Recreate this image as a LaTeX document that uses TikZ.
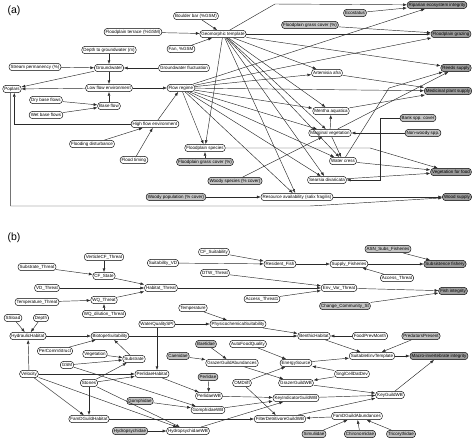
\documentclass[tikz,border=0pt]{standalone}
\usepackage{fontspec}
\setsansfont{Liberation Sans}
\usetikzlibrary{shapes}
\usetikzlibrary{positioning}
\usetikzlibrary{arrows.meta}
\definecolor{ingray}{HTML}{C4C4C4}
\definecolor{outgray}{HTML}{9C9C9C}
\definecolor{linegray}{HTML}{2A2A2A}
\tikzset{
    vnode/.style = {rectangle, rounded corners=3.4pt, draw=black, line width=0.45pt, fill=white, inner xsep=1.6pt, inner ysep=0pt, minimum height=7.4pt, font=\sffamily\fontsize{4.5}{5}\selectfont, text=black},
    vnodeg/.style = {vnode, fill=ingray},
    vnoded/.style = {vnode, fill=outgray},
    panel/.style = {font=\sffamily\fontsize{10.5}{12}\selectfont},
    edgea/.style = {-{Latex[length=3.8pt,width=3pt]}, line width=0.45pt, linegray},
}
\begin{document}
\begin{tikzpicture}[x=1pt,y=-1pt]
\useasboundingbox (0,0) rectangle (474,439);
% panel (a)
\node[panel] at (14,11) (pa) {(a)};
\node[vnode] at (133,32) (fpt) {Floodplain terrace (\%GSM)};
\node[vnode] at (109,50) (dgw) {Depth to groundwater (m)};
\node[vnode] at (35,67) (stp) {Stream permanency (\%)};
\node[vnode] at (109,68) (gw) {Groundwater};
\node[vnode] at (12,89) (pop) {Poplars};
\node[vnode] at (109,88) (lfe) {Low flow environment};
\node[vnode] at (46,100) (dbf) {Dry base flows};
\node[vnode] at (109,106) (bf) {Base flow};
\node[vnode] at (46,115) (wbf) {Wet base flows};
\node[vnode] at (155,124) (hfe) {High flow environment};
\node[vnode] at (92,144) (fld) {Flooding disturbance};
\node[vnode] at (134,160) (flt) {Flood timing};
\node[vnodeg] at (176,197) (wpo) {Woody population (\% cover)};
\node[vnode] at (196,16) (bb) {Boulder bar (\%GSM)};
\node[vnode] at (223,34) (geo) {Geomorphic template};
\node[vnode] at (181,49) (fan) {Fan, \%GSM};
\node[vnode] at (184,68) (gwf) {Groundwater fluctuation};
\node[vnode] at (181,88) (flr) {Flow regime};
\node[vnodeg] at (310,25) (fgc) {Floodplain grass cover (\%)};
\node[vnode] at (327,73) (art) {Artemisia afra};
\node[vnoded] at (437,5) (rip) {Riparian ecosystem integrity};
\node[vnodeg] at (355,13) (eco) {Ecostatus};
\node[vnoded] at (451,34) (fgr) {Floodplain grazing};
\node[vnoded] at (456,68) (ree) {Reeds supply};
\node[vnoded] at (448,91) (med) {Medicinal plant supply};
\node[vnode] at (331,111) (men) {Mentha aquatica};
\node[vnodeg] at (418,118) (bsc) {Bank spp. cover};
\node[vnode] at (330,133) (mar) {Marginal vegetation};
\node[vnodeg] at (423,133) (nws) {Non-woody spp.};
\node[vnode] at (343,161) (wcr) {Water cress};
\node[vnoded] at (451,172) (vff) {Vegetation for food};
\node[vnode] at (327,180) (sea) {Searsia divaricata};
\node[vnode] at (297,197) (res) {Resource availability (salix fragilis)};
\node[vnoded] at (457,197) (wsu) {Wood supply};
\node[vnode] at (205,148) (fsp) {Floodplain species};
\node[vnodeg] at (205,162) (fgc2) {Floodplain grass cover (\%)};
\node[vnodeg] at (235,181) (wsp) {Woody species (\% cover)};
%
\draw[edgea] (dgw) -- (gw);
\draw[edgea] (stp) -- (gw);
\draw[edgea] (gwf) -- (gw);
\draw[edgea] (gw) -- (lfe);
\draw[edgea] (gw) -- (pop);
\draw[edgea] (lfe) -- (pop);
\draw[edgea] (bf) -- (lfe);
\draw[edgea] (dbf) -- (bf);
\draw[edgea] (wbf) -- (bf);
\draw[edgea] (lfe) -- (flr);
\draw[edgea] (hfe) -- (flr);
\draw[edgea] (fld) -- (hfe);
\draw[edgea] (flt) -- (hfe);
\draw[edgea] (hfe.west) -| (pop.300);
\draw[edgea] (pop.250) |- (310,206) -- (wsu);
\draw[edgea] (fpt) -- (geo);
\draw[edgea] (bb) -- (geo);
\draw[edgea] (fan) -- (geo);
\draw[edgea] (geo) -- (275,4) -- (rip);
\draw[edgea] (eco) -- (rip);
\draw[edgea] (fgc) -- (fgr);
\draw[edgea] (geo) edge (fgr) edge (ree) edge (art) edge (men) edge (mar) edge (wcr) edge (sea) edge (res) edge (fsp);
\draw[edgea] (flr) edge (rip) edge (fgr) edge (art) edge (med) edge (men) edge (mar) edge (wcr) edge (sea) edge (res) edge (fsp);
\draw[edgea] (fgc2) -- (fsp);
\draw[edgea] (fsp.east) -- (370,148) -- (vff);
\draw[edgea] (wsp) -- (mar);
\draw[edgea] (wpo) -- (res);
\draw[edgea] (res) -- (wsu);
\draw[edgea] (bsc.west) -- ++(-20,0) |- (sea.east);
\draw[edgea] (nws) -- (mar);
\draw[edgea] (mar) -- (men);
\draw[edgea] (mar) -- (wcr);
\draw[edgea] (mar) -- (ree);
\draw[edgea] (wcr) -- (389,88) -- (ree);
\draw[edgea] (wcr) -- (vff);
\draw[edgea] (sea) -- (vff);
\draw[edgea] (men) -- (med);
\draw[edgea] (art) -- (med);
% panel (b)
\node[panel] at (14,238) (pb) {(b)};
\node[vnode] at (104,257) (vcf) {VerticleCF\_Threat};
\node[vnode] at (37,267) (sut) {Substrate\_Threat};
\node[vnode] at (104,276) (cfs) {CF\_State};
\node[vnode] at (47,288) (vdt) {VD\_Threat};
\node[vnode] at (161,288) (hab) {Habitat\_Threat};
\node[vnode] at (37,302) (tet) {Temperature\_Threat};
\node[vnode] at (104,300) (wqt) {WQ\_Threat};
\node[vnode] at (104,314) (wqd) {WQ\_dilution\_Threat};
\node[vnode] at (13,318) (ssl) {SSload};
\node[vnode] at (41,318) (dep) {Depth};
\node[vnode] at (157,324) (wqs) {WaterQualitySPI};
\node[vnode] at (28,336) (hyh) {HydraulicHabitat};
\node[vnode] at (110,336) (bio) {BiotopeSuitability};
\node[vnode] at (214,252) (cfsu) {CF\_Suitability};
\node[vnode] at (163,263) (svd) {Suitability\_VD};
\node[vnode] at (280,264) (rfi) {Resident\_Fish};
\node[vnode] at (215,273) (dtw) {DTW\_Threat};
\node[vnode] at (262,299) (ac1) {Access\_Threat1};
\node[vnode] at (193,308) (tem) {Temperature};
\node[vnode] at (238,324) (phy) {PhysicochemicalSuitability};
\node[vnodeg] at (345,306) (ccs) {Change\_Community\_St};
\node[vnodeg] at (388,249) (asn) {ASN\_Subs\_Fisheries};
\node[vnode] at (349,264) (suf) {Supply\_Fisheries};
\node[vnoded] at (445,264) (sfi) {Subsistence fishery};
\node[vnode] at (397,278) (act) {Access\_Threat};
\node[vnode] at (339,288) (evt) {Env\_Var\_Threat};
\node[vnoded] at (453,291) (fin) {Fish integrity};
\node[vnode] at (314,336) (ben) {BenthicHabitat};
\node[vnode] at (370,336) (fpm) {FoodPrevMonth};
\node[vnodeg] at (421,336) (prp) {PredatorsPresent};
\node[vnode] at (372,356) (set) {SuitableEnvTemplate};
\node[vnoded] at (439,356) (mii) {Macro-invertebrate integrity};
\node[vnode] at (352,374) (scd) {SnglCellDatDev};
\node[vnode] at (390,395) (kgw) {KeyGuildWB};
\node[vnode] at (357,416) (fga) {FamDGuildAbundances};
\node[vnodeg] at (314,434) (sim) {Simuliidae};
\node[vnodeg] at (360,434) (chi) {Chironomidae};
\node[vnodeg] at (401,434) (tri) {Tricorythidae};
\node[vnode] at (55,351) (pcs) {PerCommStruct};
\node[vnode] at (95,354) (veg) {Vegetation};
\node[vnode] at (67,365) (gsm) {GSM};
\node[vnode] at (134,359) (sub) {Substrate};
\node[vnode] at (29,374) (vel) {Velocity};
\node[vnode] at (152,374) (peh) {PerlidaeHabitat};
\node[vnode] at (89,383) (sto) {Stones};
\node[vnodeg] at (140,401) (gom) {Gomphidae};
\node[vnode] at (89,419) (fgh) {FamDGuildHabitat};
\node[vnodeg] at (130,431) (hyd) {Hydropsychidae};
\node[vnodeg] at (206,344) (bae) {Baetidae};
\node[vnode] at (248,344) (afq) {AutoFoodQuality};
\node[vnodeg] at (178,356) (cae) {Caenidae};
\node[vnode] at (232,363) (gga) {GrazerGuildAbundances};
\node[vnode] at (296,363) (ens) {EnergySource};
\node[vnodeg] at (208,377) (per) {Perlidae};
\node[vnode] at (242,383) (omd) {OMDrift};
\node[vnode] at (296,383) (ggw) {GrazerGuildWB};
\node[vnode] at (209,396) (pwb) {PerlidaeWB};
\node[vnode] at (296,398) (kig) {KeyIndicatorGuildWB};
\node[vnode] at (208,410) (gwb) {GomphidaeWB};
\node[vnode] at (280,419) (fdw) {FilterDetritivoreGuildWB};
\node[vnode] at (188,431) (hwb) {HydropsychidaeWB};
%
\draw[edgea] (vcf) -- (cfs);
\draw[edgea] (sut) -- (cfs);
\draw[edgea] (cfs) -- (hab);
\draw[edgea] (vdt) -- (hab);
\draw[edgea] (wqt) -- (hab);
\draw[edgea] (tet) -- (wqt);
\draw[edgea] (wqd) -- (wqt);
\draw[edgea] (svd) -- (rfi);
\draw[edgea] (cfsu) -- (rfi);
\draw[edgea] (rfi) -- (suf);
\draw[edgea] (hab) -- (evt);
\draw[edgea] (dtw) -- (evt);
\draw[edgea] (ac1) -- (evt);
\draw[edgea] (suf) -- (sfi);
\draw[edgea] (asn) -- (sfi);
\draw[edgea] (act) -- (suf);
\draw[edgea] (evt) -- (fin);
\draw[edgea] (ccs) -- (fin);
\draw[edgea] (ssl) -- (hyh);
\draw[edgea] (dep) -- (hyh);
\draw[edgea] (vel) -- (hyh);
\draw[edgea] (hyh) -- (bio);
\draw[edgea] (pcs) -- (bio);
\draw[edgea] (sub) -- (bio);
\draw[edgea] (veg) -- (sub);
\draw[edgea] (gsm) -- (sub);
\draw[edgea] (sto) -- (sub);
\draw[edgea] (bio) -- (ben);
\draw[edgea] (wqs) -- (phy);
\draw[edgea] (wqs.south) -- (peh.north -| wqs.south);
\draw[edgea] (tem) -- (phy);
\draw[edgea] (phy) -- (ben);
\draw[edgea] (fpm) -- (ben);
\draw[edgea] (ben) -- (set);
\draw[edgea] (prp) -- (set);
\draw[edgea] (ens) -- (set);
\draw[edgea] (set) -- (mii);
\draw[edgea] (kgw) -- (mii);
\draw[edgea] (scd) -- (ens);
\draw[edgea] (scd) -- (ggw);
\draw[edgea] (afq) -- (ens);
\draw[edgea] (omd) -- (ens);
\draw[edgea] (omd) -- (fdw);
\draw[edgea] (bae) -- (gga);
\draw[edgea] (cae) -- (gga);
\draw[edgea] (gga) -- (ggw);
\draw[edgea] (per) -- (pwb);
\draw[edgea] (peh) -- (pwb);
\draw[edgea] (vel) -- (peh);
\draw[edgea] (sto) -- (peh);
\draw[edgea] (gsm) -- (gwb);
\draw[edgea] (gom) -- (gwb);
\draw[edgea] (vel) -- (fgh);
\draw[edgea] (sto) -- (fgh);
\draw[edgea] (vel) -- (hwb);
\draw[edgea] (sto) -- (hwb);
\draw[edgea] (hyd) -- (hwb);
\draw[edgea] (fgh) -- (fdw);
\draw[edgea] (pwb) -- (kig);
\draw[edgea] (gwb) -- (kig);
\draw[edgea] (hwb) -- (kig);
\draw[edgea] (ggw) -- (kgw);
\draw[edgea] (kig) -- (kgw);
\draw[edgea] (fdw) -- (kgw);
\draw[edgea] (fga) -- (fdw);
\draw[edgea] (sim) -- (fga);
\draw[edgea] (chi) -- (fga);
\draw[edgea] (tri) -- (fga);
\end{tikzpicture}
\end{document}
